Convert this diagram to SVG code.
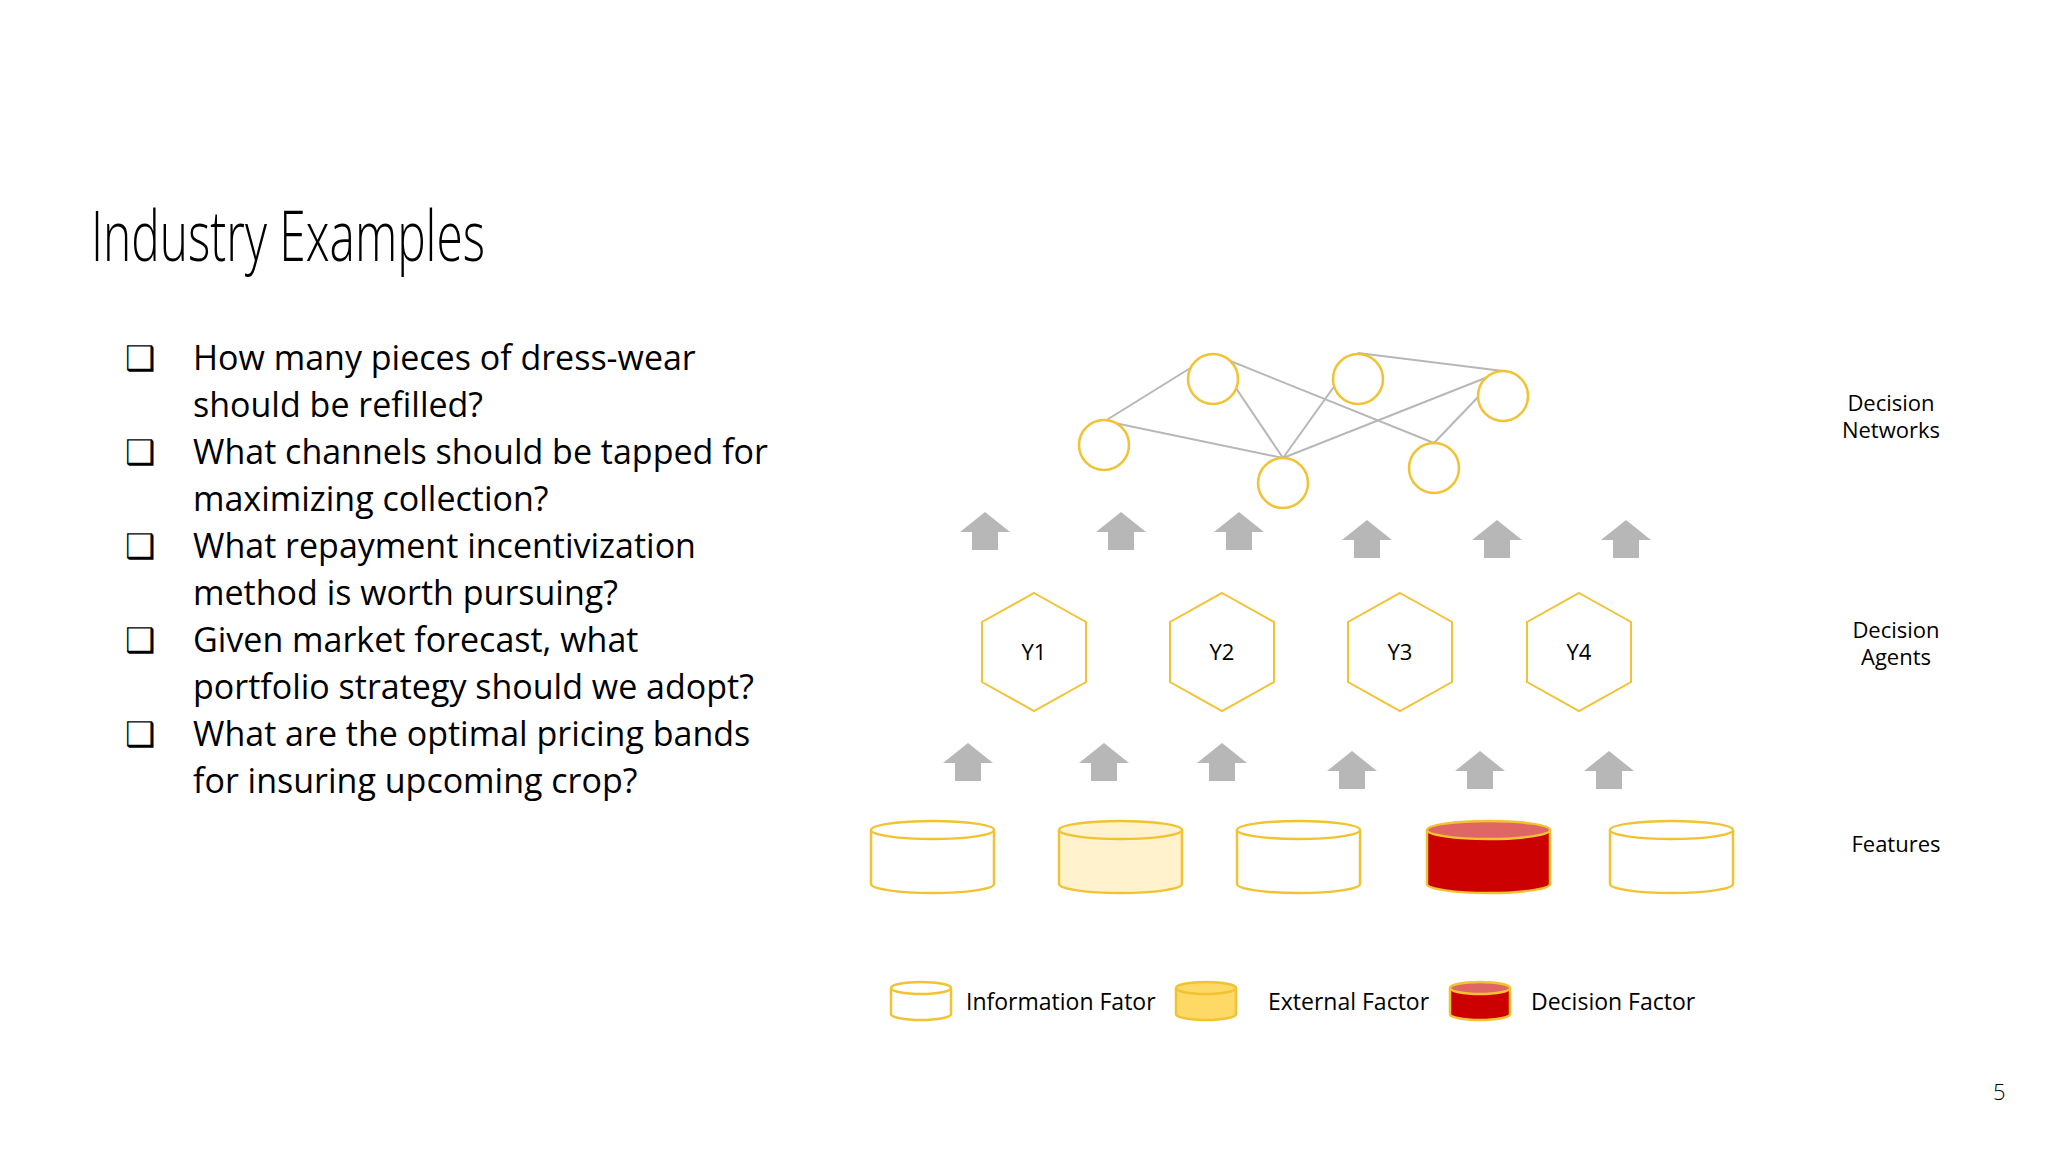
<svg xmlns="http://www.w3.org/2000/svg" width="2048" height="1152" viewBox="0 0 2048 1152">
<style>
text{font-family:"Open Sans","Noto Sans",sans-serif;fill:#000}
.q{font-size:34px}
.lbl{font-size:22px;text-anchor:middle}
.hx{fill:#fff;stroke:#F1C232;stroke-width:2}
.c{fill:#fff;stroke:#F1C232;stroke-width:2.5}
.ar{fill:#B7B7B7}
.ln{stroke:#B7B7B7;stroke-width:2}
.cy{stroke:#F1C232;stroke-width:2.5}
</style>
<defs>
<path id="arr" d="M0,0 L25,20 L13,20 L13,38 L-13,38 L-13,20 L-25,20 Z"/>
</defs>
<rect width="2048" height="1152" fill="#fff"/>
<text x="91" y="261" font-size="70" textLength="394" lengthAdjust="spacingAndGlyphs" style="font-family:'Open Sans','Liberation Sans',sans-serif;font-weight:300">Industry Examples</text>
<g id="bullets" class="q">
<text x="125" y="370">❑</text><text x="193" y="370">How many pieces of dress-wear</text>
<text x="193" y="417">should be refilled?</text>
<text x="125" y="464">❑</text><text x="193" y="464">What channels should be tapped for</text>
<text x="193" y="511">maximizing collection?</text>
<text x="125" y="558">❑</text><text x="193" y="558">What repayment incentivization</text>
<text x="193" y="605">method is worth pursuing?</text>
<text x="125" y="652">❑</text><text x="193" y="652">Given market forecast, what</text>
<text x="193" y="699">portfolio strategy should we adopt?</text>
<text x="125" y="746">❑</text><text x="193" y="746">What are the optimal pricing bands</text>
<text x="193" y="793">for insuring upcoming crop?</text>
</g>
<g id="connectors">
<line class="ln" x1="1213" y1="354" x2="1105" y2="421"/>
<line class="ln" x1="1213" y1="354" x2="1283" y2="458"/>
<line class="ln" x1="1213" y1="354" x2="1434" y2="443"/>
<line class="ln" x1="1358" y1="353" x2="1283" y2="458"/>
<line class="ln" x1="1358" y1="353" x2="1503" y2="371"/>
<line class="ln" x1="1105" y1="421" x2="1283" y2="458"/>
<line class="ln" x1="1283" y1="458" x2="1503" y2="371"/>
<line class="ln" x1="1434" y1="443" x2="1503" y2="371"/>
</g>
<g id="net">
<ellipse class="c" cx="1213" cy="379" rx="25" ry="25"/>
<ellipse class="c" cx="1358" cy="379" rx="25" ry="25"/>
<ellipse class="c" cx="1503" cy="396" rx="25" ry="25"/>
<ellipse class="c" cx="1104" cy="445" rx="25" ry="25"/>
<ellipse class="c" cx="1283" cy="483" rx="25" ry="25"/>
<ellipse class="c" cx="1434" cy="468" rx="25" ry="25"/>
</g>
<g id="arrows" class="ar">
<use href="#arr" x="985" y="512"/><use href="#arr" x="1121" y="512"/><use href="#arr" x="1239" y="512"/>
<use href="#arr" x="1367" y="520"/><use href="#arr" x="1497" y="520"/><use href="#arr" x="1626" y="520"/>
<use href="#arr" x="968" y="743"/><use href="#arr" x="1104" y="743"/><use href="#arr" x="1222" y="743"/>
<use href="#arr" x="1352" y="751"/><use href="#arr" x="1480" y="751"/><use href="#arr" x="1609" y="751"/>
</g>
<g id="Y1"><path class="hx" d="M1034,593 L1086,622 L1086,682 L1034,711 L982,682 L982,622 Z"/><text class="lbl" x="1034" y="660">Y1</text></g>
<g id="Y2"><path class="hx" d="M1222,593 L1274,622 L1274,682 L1222,711 L1170,682 L1170,622 Z"/><text class="lbl" x="1222" y="660">Y2</text></g>
<g id="Y3"><path class="hx" d="M1400,593 L1452,622 L1452,682 L1400,711 L1348,682 L1348,622 Z"/><text class="lbl" x="1400" y="660">Y3</text></g>
<g id="Y4"><path class="hx" d="M1579,593 L1631,622 L1631,682 L1579,711 L1527,682 L1527,622 Z"/><text class="lbl" x="1579" y="660">Y4</text></g>
<g id="features">
<path class="cy" fill="#fff" d="M871,830 L871,884 A61.5,9 0 0 0 994,884 L994,830"/><ellipse class="cy" fill="#fff" cx="932.5" cy="830" rx="61.5" ry="9"/>
<path class="cy" fill="#FFF2CC" d="M1059,830 L1059,884 A61.5,9 0 0 0 1182,884 L1182,830"/><ellipse class="cy" fill="#FFF2CC" cx="1120.5" cy="830" rx="61.5" ry="9"/>
<path class="cy" fill="#fff" d="M1237,830 L1237,884 A61.5,9 0 0 0 1360,884 L1360,830"/><ellipse class="cy" fill="#fff" cx="1298.5" cy="830" rx="61.5" ry="9"/>
<path class="cy" fill="#CC0000" d="M1427,830 L1427,884 A61.5,9 0 0 0 1550,884 L1550,830"/><ellipse class="cy" fill="#E06666" cx="1488.5" cy="830" rx="61.5" ry="9"/>
<path class="cy" fill="#fff" d="M1610,830 L1610,884 A61.5,9 0 0 0 1733,884 L1733,830"/><ellipse class="cy" fill="#fff" cx="1671.5" cy="830" rx="61.5" ry="9"/>
</g>
<g id="labels">
<text class="lbl" x="1891" y="411">Decision</text><text class="lbl" x="1891" y="438">Networks</text>
<text class="lbl" x="1896" y="638">Decision</text><text class="lbl" x="1896" y="665">Agents</text>
<text class="lbl" x="1896" y="852">Features</text>
</g>
<g id="legend">
<path class="cy" fill="#fff" d="M891,988 L891,1014 A30,6 0 0 0 951,1014 L951,988"/><ellipse class="cy" fill="#fff" cx="921" cy="988" rx="30" ry="6"/>
<text x="966" y="1010" font-size="23">Information Fator</text>
<path class="cy" fill="#FFD966" d="M1176,988 L1176,1014 A30,6 0 0 0 1236,1014 L1236,988"/><ellipse class="cy" fill="#FFD966" cx="1206" cy="988" rx="30" ry="6"/>
<text x="1268" y="1010" font-size="23">External Factor</text>
<path class="cy" fill="#CC0000" d="M1450,988 L1450,1014 A30,6 0 0 0 1510,1014 L1510,988"/><ellipse class="cy" fill="#E06666" cx="1480" cy="988" rx="30" ry="6"/>
<text x="1531" y="1010" font-size="23">Decision Factor</text>
</g>
<text x="1993" y="1100" font-size="22" style="font-family:'Open Sans',sans-serif;font-weight:300">5</text>
</svg>
